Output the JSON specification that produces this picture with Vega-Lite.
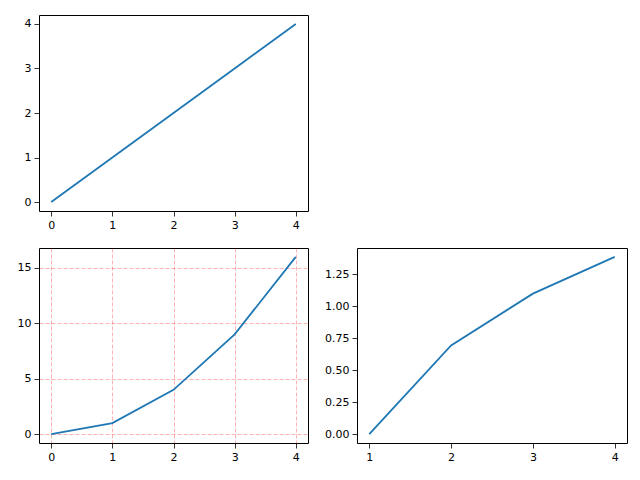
{
  "$schema": "https://vega.github.io/schema/vega-lite/v6.json",
  "padding": {"left": 16, "top": 14, "right": 5, "bottom": 5},
  "background": "white",
  "datasets": {
    "lin": [{"x": 0, "y": 0}, {"x": 1, "y": 1}, {"x": 2, "y": 2}, {"x": 3, "y": 3}, {"x": 4, "y": 4}],
    "sq": [{"x": 0, "y": 0}, {"x": 1, "y": 1}, {"x": 2, "y": 4}, {"x": 3, "y": 9}, {"x": 4, "y": 16}],
    "lg": [{"x": 1, "y": 0}, {"x": 2, "y": 0.6931}, {"x": 3, "y": 1.0986}, {"x": 4, "y": 1.3863}]
  },
  "config": {
    "view": {"stroke": "black", "strokeWidth": 1},
    "axis": {
      "domain": false,
      "grid": false,
      "title": null,
      "labelFont": "DejaVu Sans",
      "labelFontSize": 11,
      "labelColor": "black",
      "tickColor": "black",
      "tickSize": 5,
      "tickWidth": 0.8,
      "labelPadding": 3,
      "labelFlush": false,
      "labelOverlap": false
    },
    "line": {"color": "#1f77b4", "strokeWidth": 1.8}
  },
  "vconcat": [
    {
      "width": 269,
      "height": 196,
      "data": {"name": "lin"},
      "mark": "line",
      "encoding": {
        "x": {"field": "x", "type": "quantitative", "scale": {"domain": [-0.2, 4.2], "nice": false, "zero": false}, "axis": {"values": [0, 1, 2, 3, 4]}},
        "y": {"field": "y", "type": "quantitative", "scale": {"domain": [-0.2, 4.2], "nice": false, "zero": false}, "axis": {"values": [0, 1, 2, 3, 4]}}
      }
    },
    {
      "spacing": 15,
      "hconcat": [
        {
          "width": 269,
          "height": 195,
          "data": {"name": "sq"},
          "mark": "line",
          "encoding": {
            "x": {"field": "x", "type": "quantitative", "scale": {"domain": [-0.2, 4.2], "nice": false, "zero": false}, "axis": {"values": [0, 1, 2, 3, 4], "grid": true, "gridColor": "red", "gridOpacity": 0.3, "gridDash": [4, 2], "gridWidth": 1}},
            "y": {"field": "y", "type": "quantitative", "scale": {"domain": [-0.8, 16.8], "nice": false, "zero": false}, "axis": {"values": [0, 5, 10, 15], "grid": true, "gridColor": "red", "gridOpacity": 0.3, "gridDash": [4, 2], "gridWidth": 1}}
          }
        },
        {
          "width": 270,
          "height": 195,
          "data": {"name": "lg"},
          "mark": "line",
          "encoding": {
            "x": {"field": "x", "type": "quantitative", "scale": {"domain": [0.85, 4.15], "nice": false, "zero": false}, "axis": {"values": [1, 2, 3, 4]}},
            "y": {"field": "y", "type": "quantitative", "scale": {"domain": [-0.0693, 1.4556], "nice": false, "zero": false}, "axis": {"values": [0, 0.25, 0.5, 0.75, 1, 1.25], "format": ".2f"}}
          }
        }
      ]
    }
  ],
  "spacing": 16
}
